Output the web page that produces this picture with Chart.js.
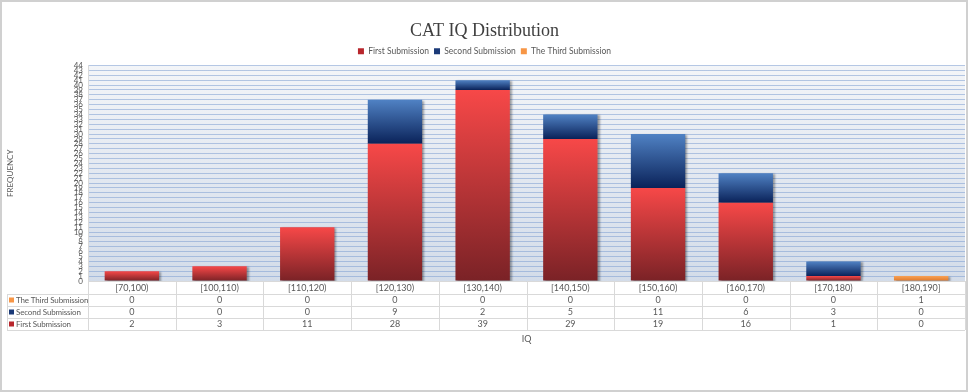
<!DOCTYPE html>
<html>
<head>
<meta charset="utf-8">
<title>CAT IQ Distribution</title>
<script src="https://cdn.jsdelivr.net/npm/chart.js@4"></script>
<style>
  body { margin: 0; background: #ffffff; }
  #wrap { width: 968px; height: 392px; }
</style>
</head>
<body>
<div id="wrap"><canvas id="iqChart" width="968" height="392"></canvas></div>
<script>
// chart data
const categories = ['[70,100)', '[100,110)', '[110,120)', '[120,130)', '[130,140)', '[140,150)', '[150,160)', '[160,170)', '[170,180)', '[180,190]'];
const firstSubmission = [2, 3, 11, 28, 39, 29, 19, 16, 1, 0];
const secondSubmission = [0, 0, 0, 9, 2, 5, 11, 6, 3, 0];
const thirdSubmission = [0, 0, 0, 0, 0, 0, 0, 0, 0, 1];
const seriesNames = ['First Submission', 'Second Submission', 'The Third Submission'];
const yMax = 44;

const allSeries = [firstSubmission, secondSubmission, thirdSubmission];
const solidColors = ['#b8262c', '#1b3a78', '#f79646'];
const gradStops = [
    ['#f74848', '#7a2226'],
    ['#5082c4', '#0a2259'],
    ['#f7a155', '#e0782a']
];
const textFont = 'Lato, "Liberation Sans", sans-serif';

//gradient per stacked segment, light at top and dark at bottom
function segmentFill(c) {
    const ds = c.datasetIndex;
    if (c.type !== 'data' || !c.chart.chartArea) return solidColors[ds];
    const y = c.chart.scales.y;
    const i = c.dataIndex;
    let base = 0;
    for (let k = 0; k < ds; k++) base += allSeries[k][i];
    const top = y.getPixelForValue(base + allSeries[ds][i]);
    const bottom = y.getPixelForValue(base);
    if (bottom - top < 1) return solidColors[ds];
    const g = c.chart.ctx.createLinearGradient(0, top, 0, bottom);
    g.addColorStop(0, gradStops[ds][0]);
    g.addColorStop(1, gradStops[ds][1]);
    return g;
}

//plot background and bar shadows
const plotBackground = {
    id: 'plotBackground',
    beforeDraw(chart) {
        const { ctx, chartArea: a } = chart;
        ctx.save();
        const g = ctx.createLinearGradient(0, a.top, 0, a.bottom);
        g.addColorStop(0, '#f3f5f8');
        g.addColorStop(1, '#d3dce9');
        ctx.fillStyle = g;
        ctx.fillRect(a.left, a.top, a.right - a.left, a.bottom - a.top);
        ctx.restore();
    },
    beforeDatasetsDraw(chart) {
        const ctx = chart.ctx;
        ctx.save();
        ctx.shadowColor = 'rgba(0,0,0,0.35)';
        ctx.shadowOffsetX = 2;
        ctx.shadowOffsetY = 1;
        ctx.shadowBlur = 2;
    },
    afterDatasetsDraw(chart) {
        chart.ctx.restore();
    }
};

//data table under the plot, lined up with the category scale
const dataTable = {
    id: 'dataTable',
    afterDraw(chart) {
        const { ctx, chartArea: a } = chart;
        const x = chart.scales.x;
        const colW = (a.right - a.left) / categories.length;
        const labelLeft = 7;
        const headerBottom = a.bottom + 13;
        const rowH = 12;
        const tableBottom = headerBottom + rowH * 3;

        ctx.save();
        ctx.strokeStyle = '#d9d9d9';
        ctx.lineWidth = 1;
        ctx.beginPath();
        ctx.moveTo(a.left, a.bottom + 0.5);
        ctx.lineTo(a.right, a.bottom + 0.5);
        for (let r = 0; r <= 3; r++) {
            const yy = Math.round(headerBottom + r * rowH) + 0.5;
            ctx.moveTo(labelLeft, yy);
            ctx.lineTo(a.right, yy);
        }
        for (let k = 0; k <= categories.length; k++) {
            const xx = Math.round(a.left + k * colW) + 0.5;
            ctx.moveTo(xx, a.bottom);
            ctx.lineTo(xx, tableBottom);
        }
        ctx.moveTo(labelLeft + 0.5, headerBottom);
        ctx.lineTo(labelLeft + 0.5, tableBottom);
        ctx.stroke();

        ctx.fillStyle = '#595959';
        ctx.font = '9px ' + textFont;
        ctx.textAlign = 'center';
        ctx.textBaseline = 'middle';
        categories.forEach((cat, i) => {
            ctx.fillText(cat, x.getPixelForValue(i), a.bottom + 7);
        });

        //rows from top: third, second, first
        const order = [2, 1, 0];
        order.forEach((ds, r) => {
            const yMid = headerBottom + r * rowH + rowH / 2 + 0.5;
            ctx.fillStyle = solidColors[ds];
            ctx.fillRect(labelLeft + 2, yMid - 3, 5, 5);
            ctx.fillStyle = '#595959';
            ctx.textAlign = 'left';
            ctx.font = '8px ' + textFont;
            ctx.letterSpacing = '-0.15px';
            ctx.fillText(seriesNames[ds], labelLeft + 9, yMid);
            ctx.letterSpacing = '0px';
            ctx.textAlign = 'center';
            ctx.font = '9px ' + textFont;
            allSeries[ds].forEach((v, i) => {
                ctx.fillText(String(v), x.getPixelForValue(i), yMid);
            });
        });

        ctx.fillText('IQ', (a.left + a.right) / 2, tableBottom + 9);

        ctx.strokeStyle = '#d0d0d0';
        ctx.lineWidth = 2;
        ctx.strokeRect(1, 1, chart.width - 2, chart.height - 2);
        ctx.restore();
    }
};

const ctx = document.getElementById('iqChart').getContext('2d');
new Chart(ctx, {
    type: 'bar',
    data: {
        labels: categories,
        datasets: allSeries.map((values, ds) => ({
            label: seriesNames[ds],
            data: values,
            backgroundColor: segmentFill,
            borderWidth: 0,
            categoryPercentage: 1,
            barPercentage: 0.62
        }))
    },
    options: {
        responsive: false,
        animation: false,
        layout: { padding: { left: 4, right: 3, top: 0, bottom: 0 } },
        plugins: {
            title: {
                display: true,
                text: 'CAT IQ Distribution',
                color: '#404040',
                font: { family: '"Liberation Serif", serif', size: 18, weight: 'normal', lineHeight: 1 },
                padding: { top: 22, bottom: 2 }
            },
            legend: {
                display: true,
                labels: {
                    color: '#595959',
                    font: { family: textFont, size: 8.5 },
                    boxWidth: 6,
                    boxHeight: 6,
                    padding: 5,
                    generateLabels(chart) {
                        return seriesNames.map((name, ds) => ({
                            text: name,
                            fillStyle: solidColors[ds],
                            strokeStyle: solidColors[ds],
                            lineWidth: 0,
                            hidden: false,
                            datasetIndex: ds,
                            fontColor: '#595959'
                        }));
                    }
                }
            },
            tooltip: { enabled: false }
        },
        scales: {
            x: {
                stacked: true,
                grid: { display: false },
                border: { display: false },
                ticks: { display: false },
                afterFit(scale) { scale.height = 111; }
            },
            y: {
                stacked: true,
                min: 0,
                max: yMax,
                grid: { color: 'rgba(125,158,210,0.55)', lineWidth: 1, drawTicks: false },
                border: { display: true, color: '#d9d9d9' },
                ticks: {
                    stepSize: 1,
                    autoSkip: false,
                    color: '#595959',
                    font: { family: textFont, size: 8 },
                    padding: 5
                },
                title: {
                    display: true,
                    text: 'FREQUENCY',
                    color: '#595959',
                    font: { family: textFont, size: 8 },
                    padding: 2
                },
                afterFit(scale) { scale.width = 84; }
            }
        }
    },
    plugins: [plotBackground, dataTable]
});
</script>
</body>
</html>
